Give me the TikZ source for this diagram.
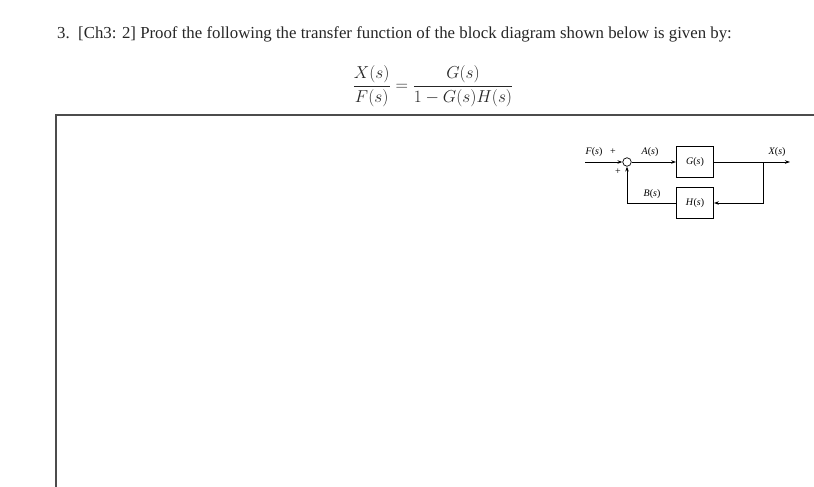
\documentclass[tikz,border=0pt]{standalone}
\usepackage{amsmath}
\usepackage{fontspec}
\setmainfont{Liberation Serif}
\usetikzlibrary{arrows.meta}

\newcommand{\sig}[1]{\textit{#1}(\textit{s})}

\begin{document}
\begin{tikzpicture}[x=1pt,y=-1pt,
	block/.style={draw,line width=0.8pt,minimum width=37pt,minimum height=31pt,inner sep=0pt,font=\fontsize{10}{12}\selectfont},
	sumnode/.style={draw,line width=0.7pt,circle,minimum size=8.5pt,inner sep=0pt},
	lbl/.style={font=\fontsize{10}{12}\selectfont,inner sep=0pt},
	arr/.style={line width=0.8pt,-{Stealth[length=5pt,width=3.5pt]}}]
	
	\useasboundingbox (0,0) rectangle (814,487);
	
	\node[anchor=base west,inner sep=0pt,font=\fontsize{16.8}{19}\selectfont,text=black!85] (title) at (57,39) {3.\ \ [Ch3: 2] Proof the following the transfer function of the block diagram shown below is given by:};
	\node[font=\fontsize{17.5}{20}\selectfont,text=black!85] (eq) at (433,86) {$\dfrac{X(s)}{F(s)}=\dfrac{G(s)}{1-G(s)H(s)}$};
	
	\draw[line width=1.5pt,black!70] (56,487) -- (56,115) -- (814,115);
	
	\node[sumnode] (sum) at (627,162) {};
	\node[block] (G) at (695,162) {\sig{G}};
	\node[block] (H) at (695,203) {\sig{H}};
	\coordinate (in) at (585,162);
	\coordinate (out) at (790,162);
	\coordinate (branch) at (763,162);
	
	\draw[arr] (in) -- (sum);
	\draw[arr] (sum) -- (G);
	\draw[arr] (G) -- (out);
	\draw[arr] (branch) |- (H);
	\draw[arr] (H) -| (sum);
	
	\node[lbl] (Fs) at (594,152) {\sig{F}};
	\node[lbl] (plusA) at (613,152) {+};
	\node[lbl] (plusB) at (618,172) {+};
	\node[lbl] (As) at (650,152) {\sig{A}};
	\node[lbl] (Bs) at (652,194) {\sig{B}};
	\node[lbl] (Xs) at (777,152) {\sig{X}};
	
\end{tikzpicture}
\end{document}
